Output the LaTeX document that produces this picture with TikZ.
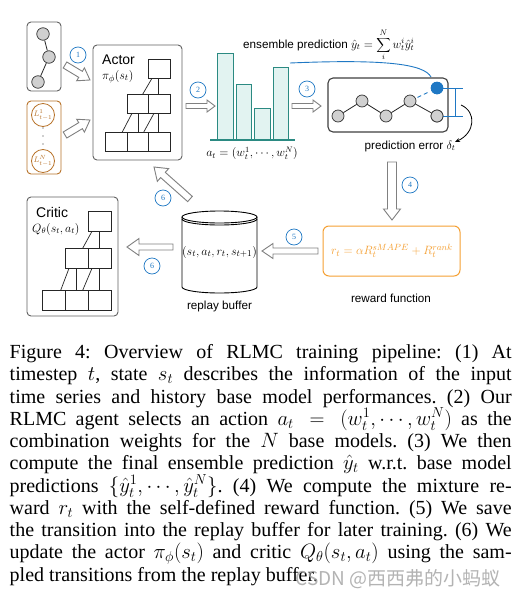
\documentclass[tikz,border=0pt]{standalone}
\usepackage[no-math]{fontspec}
\setmainfont{Liberation Serif}
\newfontfamily\hv{Liberation Sans}
\newfontfamily\cjk{Noto Sans CJK SC}
\usetikzlibrary{calc,arrows.meta}
\definecolor{cblue}{HTML}{1F78C4}
\definecolor{cteal}{HTML}{2B8A82}
\definecolor{cteallt}{HTML}{E2F3F1}
\definecolor{corange}{HTML}{F5A033}
\definecolor{cbrown}{HTML}{B8732A}
\definecolor{cgrayline}{HTML}{808080}
\definecolor{cdot}{HTML}{D0D0D0}
\newcommand\fatarrow[5]{%
  \path (#1); \pgfgetlastxy{\fax}{\fay}%
  \path (#2); \pgfgetlastxy{\fbx}{\fby}%
  \pgfmathsetmacro\fang{atan2(\fby-\fay,\fbx-\fax)}%
  \pgfmathsetmacro\flen{veclen(\fbx-\fax,\fby-\fay)}%
  \pgfmathsetmacro\fsh{\flen-#5}%
  \draw[barrow, shift={(\fax,\fay)}, rotate=\fang] (0pt,-#3pt) -- (\fsh pt,-#3pt) -- (\fsh pt,-#4pt) -- (\flen pt,0pt) -- (\fsh pt,#4pt) -- (\fsh pt,#3pt) -- (0pt,#3pt) -- cycle;%
}
\begin{document}
\begin{tikzpicture}[x=1pt,y=-1pt,
  panel/.style={draw=black!62, rounded corners=4pt, line width=0.9pt},
  nnA/.style={draw=black!85, line width=0.8pt, minimum width=21.5pt, minimum height=18.5pt, inner sep=0pt},
  nnC/.style={draw=black!85, line width=0.8pt, minimum width=23pt, minimum height=19.5pt, inner sep=0pt},
  nnline/.style={draw=black!85, line width=0.7pt},
  num/.style={circle, draw=cblue, line width=0.7pt, minimum size=16pt, inner sep=0pt, text=cblue, font=\fontsize{8}{8}\selectfont},
  tsdot/.style={circle, draw=black!80, fill=cdot, line width=0.7pt, minimum size=12.5pt, inner sep=0pt},
  lcirc/.style={circle, draw=cbrown, line width=0.8pt, minimum size=23pt, inner sep=0pt, text=cbrown, font=\fontsize{8}{8}\selectfont},
  barrow/.style={draw=cgrayline, fill=white, line width=0.9pt, line join=miter},
  bar/.style={draw=cteal, fill=cteallt, line width=0.9pt},
  lbl/.style={font=\hv\fontsize{11.7}{13}\selectfont, inner sep=0pt},
  title/.style={font=\hv\fontsize{14}{16}\selectfont, inner sep=0pt, anchor=base west},
  cyl/.style={draw=black, line width=0.9pt}
]
\useasboundingbox (0,0) rectangle (520,600);
\fill[white] (0,0) rectangle (520,600);

% ---- input panels
\draw[panel] (27,22) rectangle (61,91);
\node[tsdot] (c1) at (43,34) {};
\node[tsdot] (c2) at (49,57) {};
\node[tsdot] (c3) at (38,82) {};
\draw[line width=0.8pt, black!85] (c1) -- (c2) -- (c3);

\draw[draw=cbrown, rounded corners=4pt, line width=0.9pt] (27,101) rectangle (61,174);
\node[lcirc] (l1) at (43,115) {$L_{t-1}^{1}$};
\node[lcirc] (lN) at (43,161) {$L_{t-1}^{N}$};
\foreach \yy in {128,136,144} \fill[black!80] (43,\yy) circle (0.7pt);

% ---- actor
\draw[panel] (93,45) rectangle (182,160);
\node[title] (actT) at (102,64.5) {Actor};
\node[inner sep=0pt, anchor=base west, font=\fontsize{13}{13}\selectfont] (actF) at (102,79) {$\pi_{\phi}(s_t)$};
\node[nnA, anchor=north west] (an1) at (148,59) {};
\node[nnA, anchor=north west] (an2) at (126.5,94) {};
\node[nnA, anchor=north west] (an3) at (148,94) {};
\node[nnA, anchor=north west] (an4) at (105,132) {};
\node[nnA, anchor=north west] (an5) at (126.5,132) {};
\node[nnA, anchor=north west] (an6) at (148,132) {};
\draw[nnline] ([xshift=4pt]an1.south west) -- ([xshift=-6pt]an2.north east);
\draw[nnline] ([xshift=10pt]an1.south west) -- ([xshift=10pt]an3.north west);
\draw[nnline] ([xshift=5.5pt]an2.south west) -- ([xshift=-5pt]an4.north east);
\draw[nnline] ([xshift=11.5pt]an2.south west) -- ([xshift=11.5pt]an5.north west);
\draw[nnline] ([xshift=6pt]an3.south west) -- ([xshift=-5pt]an5.north east);
\draw[nnline] ([xshift=10pt]an3.south west) -- ([xshift=10pt]an6.north west);

% ---- arrows 1
\coordinate (a1s) at (65,65); \coordinate (a1e) at (90,80);
\coordinate (a1bs) at (65,135); \coordinate (a1be) at (90,120);
\fatarrow{a1s}{a1e}{3.5}{7.5}{11}
\fatarrow{a1bs}{a1be}{3.5}{7.5}{11}
\node[num] (n1) at (78,55) {1};

% ---- arrow 2 and bars
\coordinate (a2s) at (186,106); \coordinate (a2e) at (215,106);
\fatarrow{a2s}{a2e}{2.5}{6}{8}
\node[num] (n2) at (198,90) {2};
\draw[bar] (217,140) rectangle (233,53);
\draw[bar] (236,140) rectangle (251,84);
\draw[bar] (254.5,140) rectangle (270,108);
\draw[bar] (273,140) rectangle (288,67);
\draw[cteal, line width=1.2pt] (210,140) -- (295,140);
\node[inner sep=0pt, font=\fontsize{12}{12}\selectfont] (act) at (252,153) {$a_t = (w_t^1, \cdots, w_t^N)$};

% ---- arrow 3
\coordinate (a3s) at (292,106); \coordinate (a3e) at (321,106);
\fatarrow{a3s}{a3e}{2.5}{6}{8}
\node[num] (n3) at (307,89) {3};

% ---- ensemble prediction
\node[lbl, anchor=base west] (ens) at (243,48) {ensemble prediction \fontsize{12}{12}\selectfont$\hat{y}_t = \displaystyle\sum_{i}^{N} w_t^i \hat{y}_t^i$};
\coordinate (ensA) at (290,63);
\coordinate (ensB) at (431,77);
\draw[cblue, line width=0.9pt] (ensA) .. controls (385,59) and (424,64) .. (ensB);

% ---- prediction box
\draw[draw=black!75, rounded corners=5pt, line width=1.1pt] (328,78) rectangle (448,132);
\node[tsdot, minimum size=12pt] (p1) at (338,116) {};
\node[tsdot, minimum size=12pt] (p2) at (362,101) {};
\node[tsdot, minimum size=12pt] (p3) at (386,116) {};
\node[tsdot, minimum size=12pt] (p4) at (410,101) {};
\node[tsdot, minimum size=12pt] (p5) at (437,116) {};
\node[circle, fill=cblue, minimum size=12.5pt, inner sep=0pt] (pb) at (437,88) {};
\draw[line width=0.8pt, black!85] (p1) -- (p2) -- (p3) -- (p4) -- (p5);
\draw[cblue, line width=0.9pt, dash pattern=on 4pt off 3pt, shorten <=2pt, shorten >=2pt] (p4) -- (pb);
\coordinate (eT) at (463,88); \coordinate (eB) at (463,116);
\draw[cblue, line width=0.8pt] (pb.center) -- (eT);
\draw[cblue, line width=0.8pt] (p5.center) -- (eB);
\draw[cblue, line width=0.8pt] (455,88) -- (455,116);
\node[tsdot, minimum size=12pt] at (437,116) {};
\node[circle, fill=cblue, minimum size=12.5pt, inner sep=0pt] at (437,88) {};
\coordinate (cvA) at (461,105); \coordinate (cvB) at (455,142);
\draw[black, line width=0.8pt, -{Stealth[length=5pt,width=4pt]}] (cvA) .. controls (477,112) and (475,133) .. (cvB);
\node[lbl, anchor=base] (perr) at (410,149) {prediction error \fontsize{12}{12}\selectfont$\delta_t$};

% ---- arrow 4 and reward
\coordinate (a4s) at (392,162); \coordinate (a4e) at (392,220);
\fatarrow{a4s}{a4e}{4.5}{8.5}{11}
\node[num] (n4) at (410,185) {4};
\draw[draw=corange, rounded corners=6pt, line width=1pt] (323,226) rectangle (460,276);
\node[inner sep=0pt, text=corange, font=\fontsize{13}{13}\selectfont] (rew) at (392,251) {$r_t = \alpha R_t^{sMAPE} + R_t^{rank}$};
\node[lbl] (rewL) at (391,298) {reward function};

% ---- arrow 5 and buffer
\coordinate (a5s) at (318,251); \coordinate (a5e) at (262,251);
\fatarrow{a5s}{a5e}{3}{7.5}{11}
\node[num] (n5) at (294,237) {5};
\draw[cyl, fill=white] (182,217) -- (182,287) arc[start angle=180,end angle=360,x radius=37.5pt,y radius=6pt] -- (257,217);
\draw[cyl] (219.5,217) ellipse[x radius=37.5pt, y radius=6pt];
\draw[cyl] (182,219) arc[start angle=180,end angle=360,x radius=37.5pt,y radius=6pt];
\node[inner sep=0pt, font=\fontsize{12.5}{12.5}\selectfont] (buf) at (219.5,252) {$(s_t, a_t, r_t, s_{t+1})$};
\node[lbl] (bufL) at (219.5,306) {replay buffer};

% ---- arrows 6
\coordinate (a6s) at (173,247); \coordinate (a6e) at (127,247);
\fatarrow{a6s}{a6e}{3}{8.5}{12}
\node[num] (n6b) at (152,266) {6};
\coordinate (a7s) at (190,199); \coordinate (a7e) at (154,167);
\fatarrow{a7s}{a7e}{3.5}{8.5}{12}
\node[num] (n6a) at (163,198) {6};

% ---- critic
\draw[panel] (27,197) rectangle (118,316);
\node[title] (crT) at (36,217.5) {Critic};
\node[inner sep=0pt, anchor=base west, font=\fontsize{11.5}{11.5}\selectfont] (crF) at (32,232) {$Q_{\theta}(s_t, a_t)$};
\node[nnC, anchor=north west] (cn1) at (88,211) {};
\node[nnC, anchor=north west] (cn2) at (65,248) {};
\node[nnC, anchor=north west] (cn3) at (88,248) {};
\node[nnC, anchor=north west] (cn4) at (42,290) {};
\node[nnC, anchor=north west] (cn5) at (65,290) {};
\node[nnC, anchor=north west] (cn6) at (88,290) {};
\draw[nnline] ([xshift=4pt]cn1.south west) -- ([xshift=-6pt]cn2.north east);
\draw[nnline] ([xshift=11.5pt]cn1.south west) -- ([xshift=11.5pt]cn3.north west);
\draw[nnline] ([xshift=4pt]cn2.south west) -- ([xshift=-5pt]cn4.north east);
\draw[nnline] ([xshift=11pt]cn2.south west) -- ([xshift=11pt]cn5.north west);
\draw[nnline] ([xshift=4pt]cn3.south west) -- ([xshift=-6pt]cn5.north east);
\draw[nnline] ([xshift=11.5pt]cn3.south west) -- ([xshift=11.5pt]cn6.north west);

% ---- caption
\node[anchor=base west, inner sep=0pt] (cap) at (9.5,358.5) {\parbox[t]{502pt}{\fontsize{20}{22.25}\selectfont\parindent=0pt\frenchspacing
Figure 4: Overview of RLMC training pipeline: (1) At\linebreak
timestep $t$, state $s_t$ describes the information of the input\linebreak
time series and history base model performances. (2) Our\linebreak
RLMC agent selects an action $a_t = (w_t^1, \cdots, w_t^N)$ as the\linebreak
combination weights for the $N$ base models. (3) We then\linebreak
compute the final ensemble prediction $\hat{y}_t$ w.r.t. base model\linebreak
predictions $\{\hat{y}_t^1, \cdots, \hat{y}_t^N\}$. (4) We compute the mixture re-\linebreak
ward $r_t$ with the self-defined reward function. (5) We save\linebreak
the transition into the replay buffer for later training. (6) We\linebreak
update the actor $\pi_\phi(s_t)$ and critic $Q_\theta(s_t, a_t)$ using the sam-\linebreak
pled transitions from the replay buffer.}};

% ---- watermark
\node[inner sep=0pt, text=black!35, opacity=0.85, font=\cjk\fontsize{19}{19}\selectfont] (wm) at (398,579) {CSDN @西西弗的小蚂蚁};
\end{tikzpicture}
\end{document}
